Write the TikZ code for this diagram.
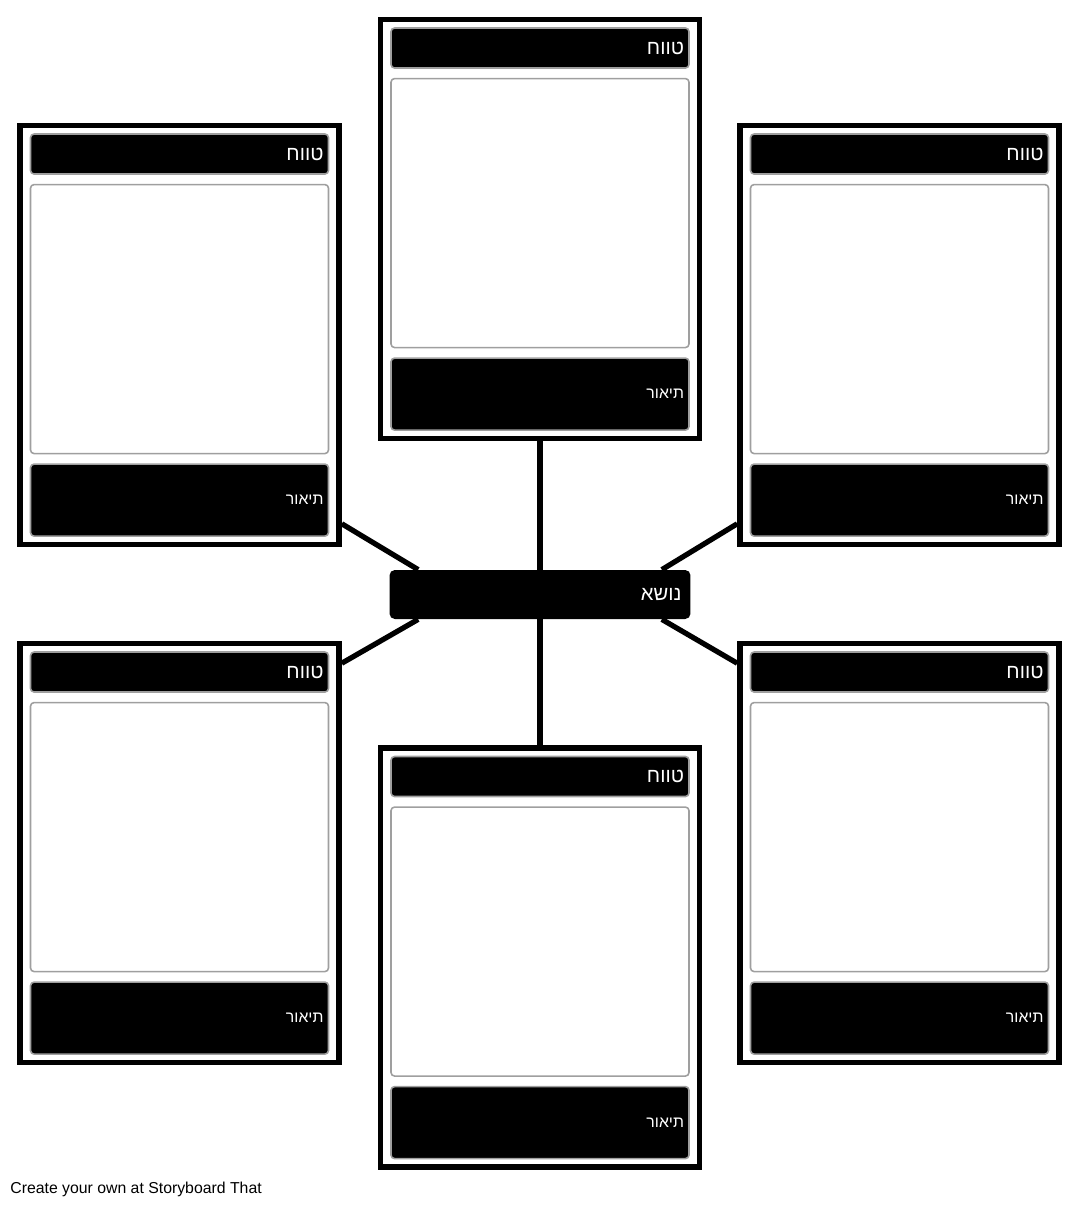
\documentclass[tikz,border=0pt]{standalone}
\usepackage{fontspec}
\setmainfont{Liberation Sans}
\newfontfamily\hebfont[Script=Hebrew]{Liberation Sans}
\TeXXeTstate=1
\usetikzlibrary{positioning}
\newcommand{\heb}[1]{{\hebfont\beginR #1\endR}}

\begin{document}
\begin{tikzpicture}[x = 0.02cm, y = -0.02cm,
		frame/.style = {draw, line width = 3.2pt, minimum width = 6.38cm, minimum height = 8.38cm, inner sep = 0pt},
		titlebar/.style = {fill = black, draw = gray!75, line width = 0.9pt, rounded corners = 2pt, minimum width = 5.96cm, minimum height = 0.8cm, text width = 5.76cm, align = right, text = white, inner sep = 0pt, font = \fontsize{11.5}{13}\selectfont, below = 0.21cm of #1.north},
		imgbox/.style = {fill = white, draw = gray!75, line width = 0.9pt, rounded corners = 2pt, minimum width = 5.96cm, minimum height = 5.38cm, inner sep = 0pt, below = 0.18cm of #1},
		descbar/.style = {fill = black, draw = gray!75, line width = 0.9pt, rounded corners = 2pt, minimum width = 5.96cm, minimum height = 1.44cm, text width = 5.76cm, align = right, text = white, inner sep = 0pt, font = \fontsize{9}{11}\selectfont, below = 0.18cm of #1},
		link/.style = {line width = 3pt}]
		\useasboundingbox (0, 0) rectangle (1081, 1208);
		%%%%%%%%%%%%% top
		\node[frame] (fT) at (540, 229) {};
		\node[titlebar = fT] (tT) {\heb{טווח}};
		\node[imgbox = tT] (iT) {};
		\node[descbar = iT] (dT) {\heb{תיאור}};
		%%%%%%%%%%%%% upper left
		\node[frame] (fL1) at (179.5, 335) {};
		\node[titlebar = fL1] (tL1) {\heb{טווח}};
		\node[imgbox = tL1] (iL1) {};
		\node[descbar = iL1] (dL1) {\heb{תיאור}};
		%%%%%%%%%%%%% upper right
		\node[frame] (fR1) at (899.5, 335) {};
		\node[titlebar = fR1] (tR1) {\heb{טווח}};
		\node[imgbox = tR1] (iR1) {};
		\node[descbar = iR1] (dR1) {\heb{תיאור}};
		%%%%%%%%%%%%% lower left
		\node[frame] (fL2) at (179.5, 853) {};
		\node[titlebar = fL2] (tL2) {\heb{טווח}};
		\node[imgbox = tL2] (iL2) {};
		\node[descbar = iL2] (dL2) {\heb{תיאור}};
		%%%%%%%%%%%%% lower right
		\node[frame] (fR2) at (899.5, 853) {};
		\node[titlebar = fR2] (tR2) {\heb{טווח}};
		\node[imgbox = tR2] (iR2) {};
		\node[descbar = iR2] (dR2) {\heb{תיאור}};
		%%%%%%%%%%%%% bottom
		\node[frame] (fB) at (540, 957.5) {};
		\node[titlebar = fB] (tB) {\heb{טווח}};
		\node[imgbox = tB] (iB) {};
		\node[descbar = iB] (dB) {\heb{תיאור}};
		%%%%%%%%%%%%% topic
		\node[fill = black, rounded corners = 3pt, minimum width = 6.02cm, minimum height = 0.98cm, text width = 5.66cm, align = right, text = white, inner sep = 0pt, font = \fontsize{11.5}{13}\selectfont] (hub) at (540, 594.5) {\heb{נושא}};
		%%%%%%%%%%%%% spokes
		\draw[link] (fT.south) to (hub.north);
		\draw[link] (hub.south) to (fB.north);
		\draw[link] ([yshift = 0.47cm]fL1.south east) to ([xshift = 0.58cm]hub.north west);
		\draw[link] ([yshift = 0.47cm]fR1.south west) to ([xshift = -0.58cm]hub.north east);
		\draw[link] ([yshift = -0.45cm]fL2.north east) to ([xshift = 0.58cm]hub.south west);
		\draw[link] ([yshift = -0.45cm]fR2.north west) to ([xshift = -0.58cm]hub.south east);
		%%%%%%%%%%%%%
		\node[anchor = west, inner sep = 0pt, font = \fontsize{9}{11}\selectfont] (credit) at (10, 1189) {Create your own at Storyboard That};
\end{tikzpicture}
\end{document}
